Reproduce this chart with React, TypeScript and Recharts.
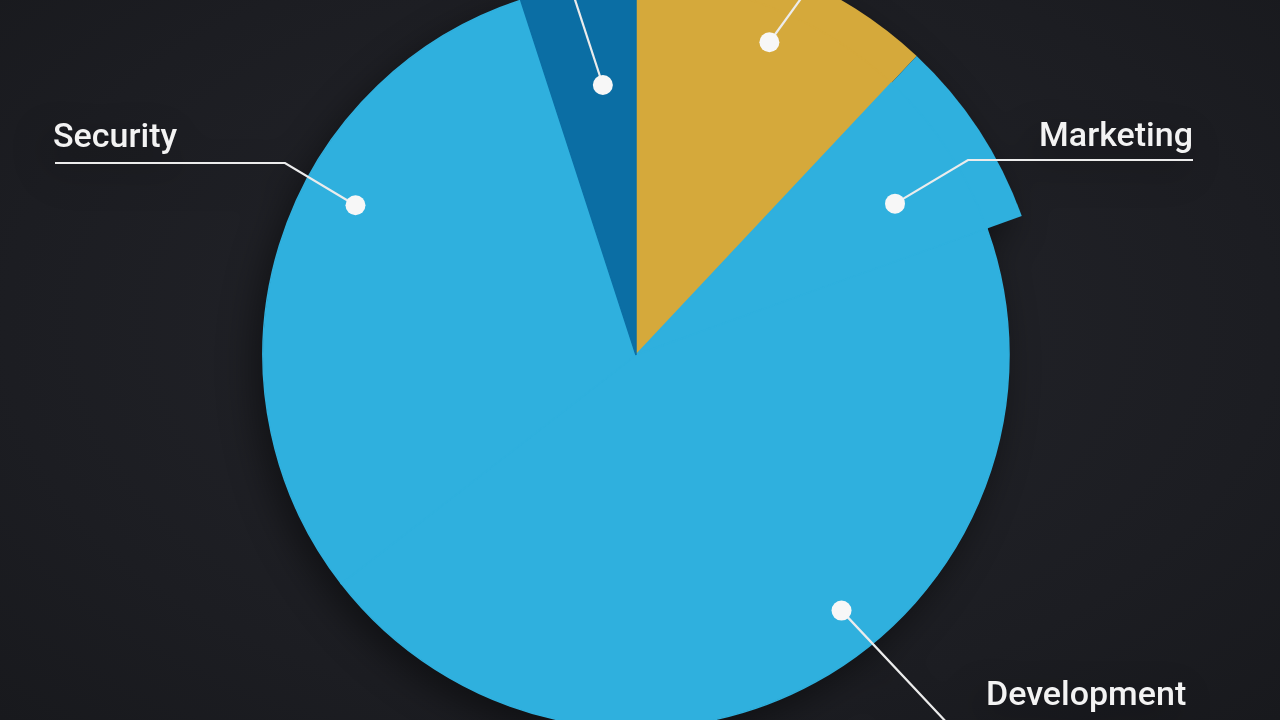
import { PieChart, Pie, Cell } from 'recharts';

// Slices clockwise from 12 o'clock (the two top labels are cropped off the picture)
const categories = ['Operations', 'Marketing', 'Development', 'Security', 'Infrastructure'];
const shares = [12, 7.5, 45, 30.5, 5];
const showName = [false, true, true, true, false];

const colors = ['#d5a93b', '#2fb0de', '#2fb0de', '#2fb0de', '#0b6ea4'];
const raised = [true, true, false, false, false];

const data = categories.map((name, i) => ({ name, value: shares[i] }));

// leader layout: dot radius, small angle nudge (deg), bend and end points, text spot
const labelLayout = [
  { r: 340, nudge: -1.5, path: [[818, -25]], text: null },
  { r: 300, nudge: -3, path: [[968, 160], [1193, 160]], text: { x: 1193, y: 146, anchor: 'end' } },
  { r: 328, nudge: 10, path: [[965, 742], [1190, 742]], text: { x: 986, y: 705, anchor: 'start' } },
  { r: 318, nudge: -11, path: [[285, 163], [55, 163]], text: { x: 53, y: 147, anchor: 'start' } },
  { r: 272, nudge: -2, path: [[562, -40]], text: null },
];

const RAD = Math.PI / 180;

function renderLabel(props: any) {
  const { cx, cy, midAngle, index } = props;
  const lay = labelLayout[index];
  const a = (midAngle + lay.nudge) * RAD;
  const x = cx + lay.r * Math.cos(a);
  const y = cy - lay.r * Math.sin(a);
  const d = `M${x},${y} ` + lay.path.map((p) => `L${p[0]},${p[1]}`).join(' ');
  return (
    <g key={`lbl-${index}`}>
      <path d={d} stroke="#ececec" strokeWidth={2.2} fill="none" />
      <circle cx={x} cy={y} r={10} fill="#f7f7f7" />
      {showName[index] && lay.text && (
        <text
          x={lay.text.x}
          y={lay.text.y}
          textAnchor={lay.text.anchor as any}
          fill="#f3f3f3"
          fontSize={34}
          fontWeight={500}
          fontFamily="Roboto, 'Noto Sans', sans-serif"
        >
          {categories[index]}
        </text>
      )}
    </g>
  );
}

export default function App() {
  return (
    <div
      style={{
        position: 'fixed',
        left: 0,
        top: 0,
        width: 1280,
        height: 720,
        overflow: 'hidden',
        background: 'radial-gradient(ellipse at 50% 45%, #24252b 0%, #1c1d22 70%, #18191d 100%)',
      }}
    >
      <PieChart
        width={1280}
        height={720}
        margin={{ top: 0, right: 0, bottom: 0, left: 0 }}
        style={{ filter: 'drop-shadow(-8px 12px 18px rgba(0,0,0,0.45))' }}
      >
        <Pie
          data={data}
          dataKey="value"
          cx={636}
          cy={355}
          outerRadius={410}
          startAngle={90}
          endAngle={-270}
          stroke="none"
          isAnimationActive={false}
        >
          {data.map((d, i) => (
            <Cell key={d.name} fill={raised[i] ? colors[i] : 'none'} stroke="none" />
          ))}
        </Pie>
        <Pie
          data={data}
          dataKey="value"
          cx={636}
          cy={355}
          outerRadius={373}
          startAngle={90}
          endAngle={-270}
          label={renderLabel}
          labelLine={false}
          isAnimationActive={false}
        >
          {data.map((d, i) => (
            <Cell key={d.name} fill={colors[i]} stroke={colors[i]} strokeWidth={1.5} />
          ))}
        </Pie>
      </PieChart>
    </div>
  );
}
